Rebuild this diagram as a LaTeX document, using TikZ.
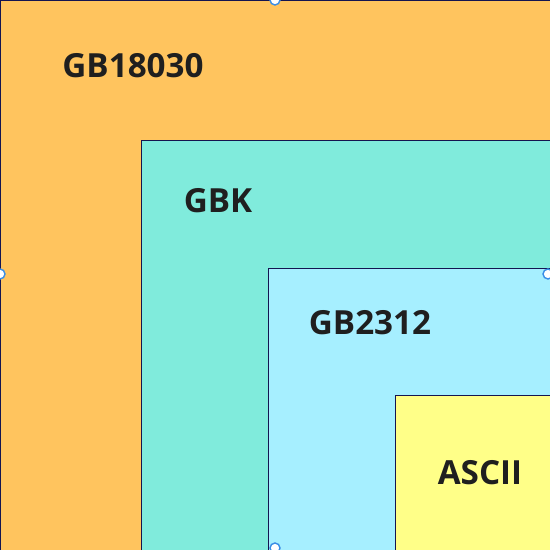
\documentclass[tikz,border=0pt]{standalone}
\usepackage{fontspec}
\setmainfont{Open Sans}
\usepackage{tikz}
\usetikzlibrary{positioning}
\definecolor{setorange}{HTML}{FFC45E}
\definecolor{setteal}{HTML}{80EBDC}
\definecolor{setblue}{HTML}{A6EFFF}
\definecolor{setyellow}{HTML}{FFFF88}
\definecolor{setline}{HTML}{141450}
\definecolor{sethandle}{HTML}{3A8EE6}

\begin{document}
\begin{tikzpicture}[
  layer/.style={draw=setline, line width=0.7pt, anchor=north west, inner sep=0pt,
                minimum width=14cm, minimum height=14cm},
  setname/.style={font=\fontsize{18.9}{22}\selectfont\bfseries, text=black!88},
  handle/.style={circle, draw=sethandle, fill=white, line width=0.8pt,
                 minimum size=0.2cm, inner sep=0pt},
]
\useasboundingbox (0,0) rectangle (11,-11);
\clip (0,0) rectangle (11,-11);
\def\ax{0} \def\bx{2.82} \def\cx{5.36} \def\dx{7.90}
% nested sets
\node[layer, fill=setorange] (gb18030) at (\ax,\ax) {};
\node[layer, fill=setteal] (gbk) at (\bx,-2.80) {};
\node[layer, fill=setblue] (gb2312) at (\cx,-\cx) {};
\node[layer, fill=setyellow] (ascii) at (\dx,-\dx) {};
% names
\node[setname] (l18030) at (2.66,-1.32) {GB18030};
\node[setname] (lgbk) at (4.36,-4.02) {GBK};
\node[setname] (l2312) at (7.40,-6.46) {GB2312};
\node[setname] (lascii) at (9.60,-9.46) {ASCII};
% selection handles
\node[handle] (hn) at (5.5,0) {};
\node[handle] (hw) at (0,-5.48) {};
\node[handle] (he) at (10.96,-5.48) {};
\node[handle] (hs) at (5.5,-10.96) {};
\end{tikzpicture}
\end{document}
